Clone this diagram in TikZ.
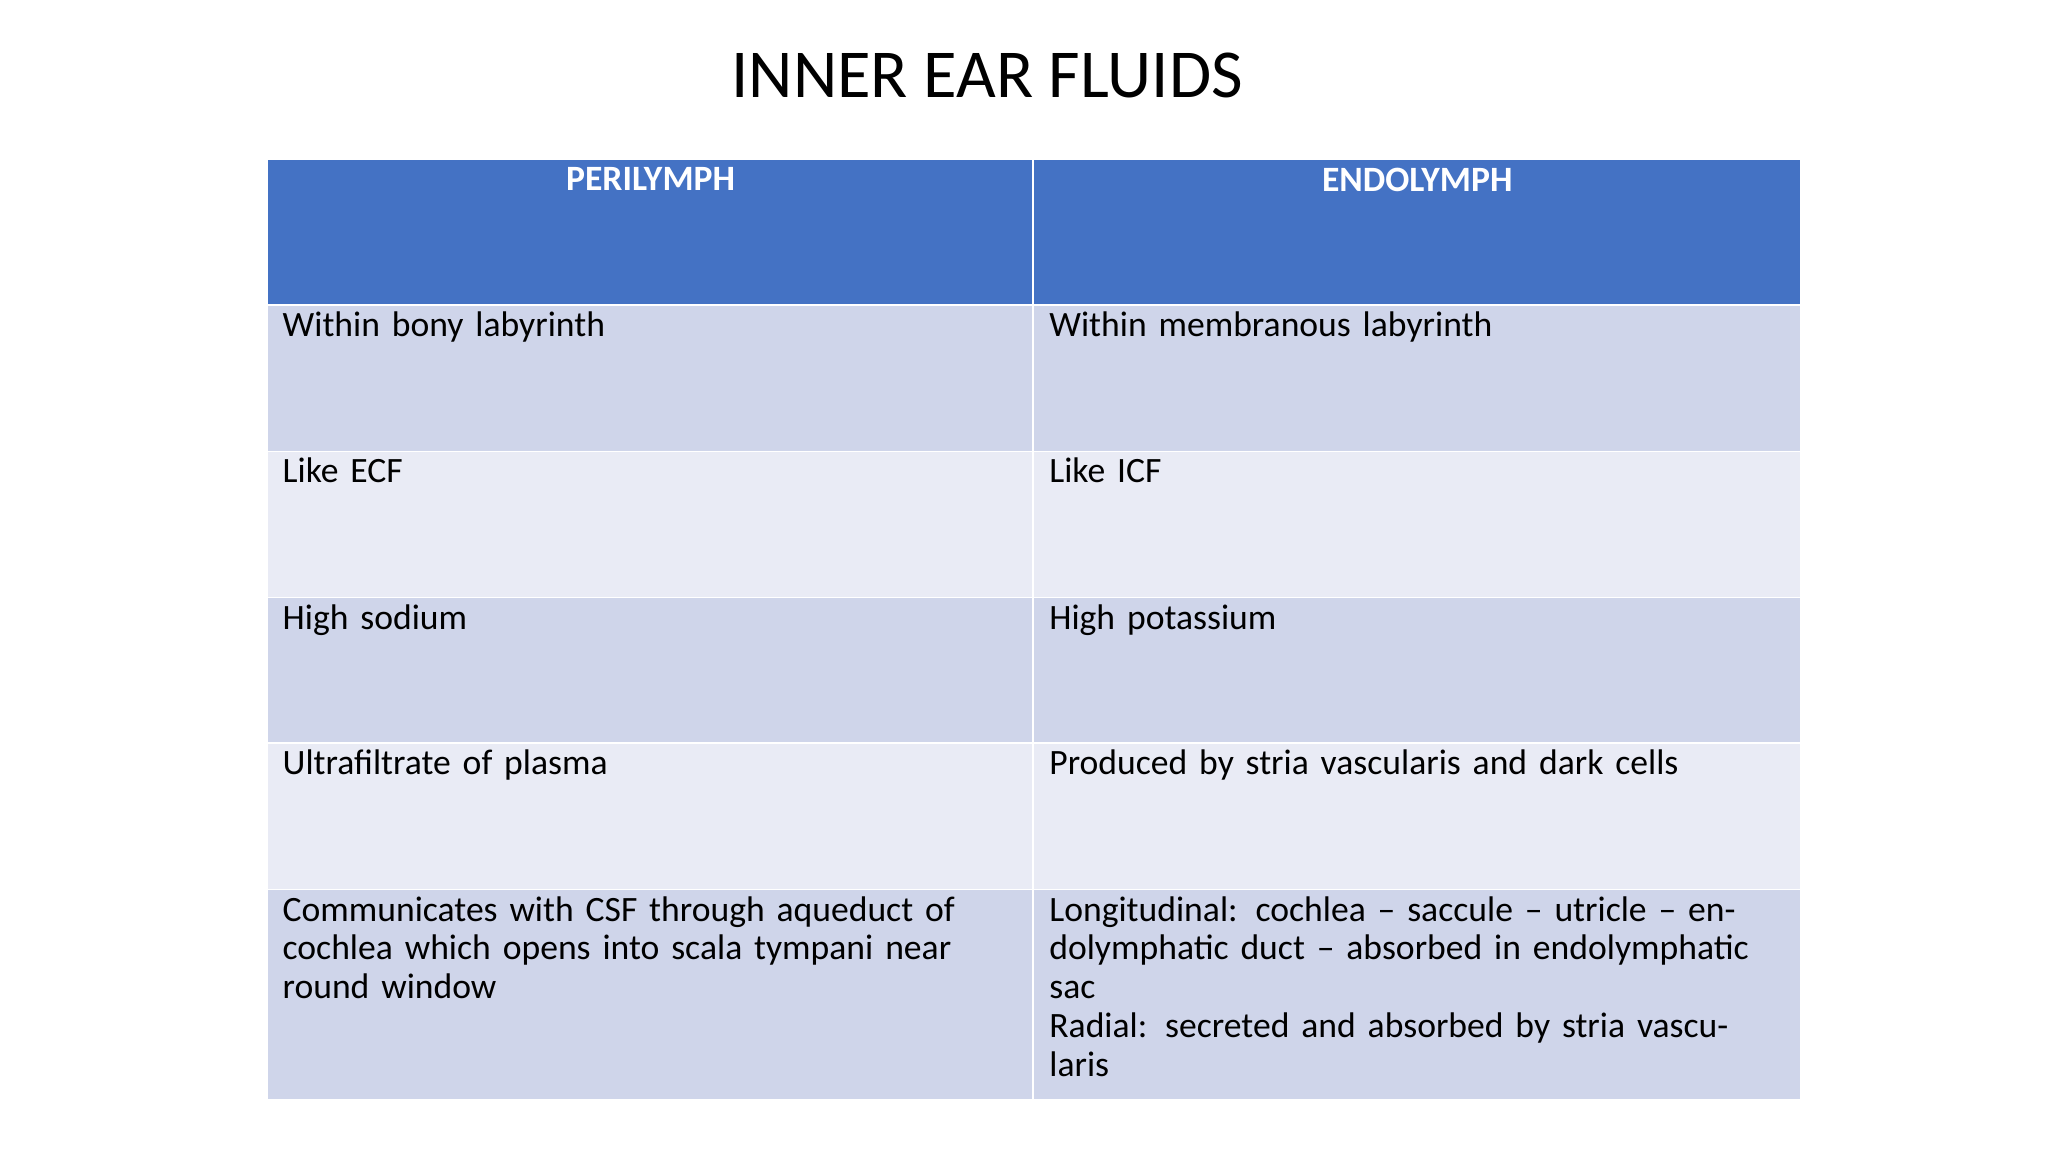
\documentclass[tikz,border=0pt]{standalone}
\usepackage{fontspec}
\setmainfont{Carlito}
\definecolor{hdr}{HTML}{4472C4}
\definecolor{rowd}{HTML}{CFD5EA}
\definecolor{rowl}{HTML}{E9EBF5}
\begin{document}
\begin{tikzpicture}[x=1pt,y=1pt,
  cell/.style={anchor=north west,inner sep=0pt,text width=548pt,align=left,font=\fontsize{27}{29.5}\selectfont,text=black},
  hcell/.style={anchor=north,inner sep=0pt,font=\fontsize{27}{29.5}\selectfont\bfseries,text=white}]
\useasboundingbox (0,0) rectangle (1552,-873);
\fill[white] (0,0) rectangle (1552,-873);
\node[font=\fontsize{52}{60}\selectfont] (title) at (748,-57) {INNER EAR FLUIDS};
% backgrounds
\fill[hdr] (203,-121) rectangle (1364,-230);
\fill[rowd] (203,-232) rectangle (1364,-342);
\fill[rowl] (203,-342) rectangle (1364,-453);
\fill[rowd] (203,-453) rectangle (1364,-563);
\fill[rowl] (203,-563) rectangle (1364,-674);
\fill[rowd] (203,-674) rectangle (1364,-833);
\draw[white,line width=1.2pt] (783,-121) -- (783,-833);
\foreach \y in {342,453,563,674} \draw[white,line width=1pt] (203,-\y) -- (1364,-\y);
\node[hcell] (h1) at (493,-127) {PERILYMPH};
\node[hcell] (h2) at (1074,-127) {ENDOLYMPH};
\node[cell] (a1) at (214,-236) {Within bony labyrinth};
\node[cell] (b1) at (795,-236) {Within membranous labyrinth};
\node[cell] (a2) at (214,-347) {Like ECF};
\node[cell] (b2) at (795,-347) {Like ICF};
\node[cell] (a3) at (214,-458) {High sodium};
\node[cell] (b3) at (795,-458) {High potassium};
\node[cell] (a4) at (214,-568) {Ultrafiltrate of plasma};
\node[cell] (b4) at (795,-568) {Produced by stria vascularis and dark cells};
\node[cell] (a5) at (214,-679) {Communicates with CSF through aqueduct of cochlea which opens into scala tympani near round window};
\node[cell] (b5) at (795,-679) {Longitudinal: cochlea -- saccule -- utricle -- endolymphatic duct -- absorbed in endolymphatic sac\\Radial: secreted and absorbed by stria vascularis};
\end{tikzpicture}
\end{document}
